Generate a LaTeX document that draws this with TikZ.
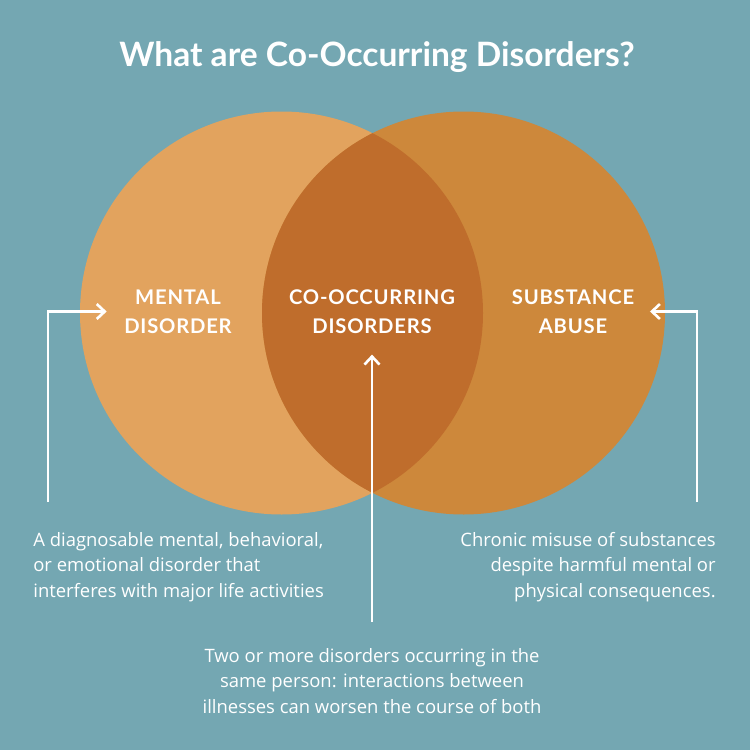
\documentclass[tikz,border=0pt]{standalone}
\usepackage{fontspec}
\setmainfont{Open Sans}
\newfontfamily\headfont{Lato}
\newfontfamily\labelfont{Lato}[LetterSpace=4.0]
\usetikzlibrary{arrows.meta,positioning}

\definecolor{tealbg}{HTML}{74A7B2}
\definecolor{mentalfill}{HTML}{E2A35E}
\definecolor{abusefill}{HTML}{CD883B}
\definecolor{overlapfill}{HTML}{BF6D2C}

\begin{document}
\begin{tikzpicture}[
    x=0.02cm, y=-0.02cm,
    circlelabel/.style={
        text=white,
        font=\labelfont\bfseries\fontsize{11.5}{16.5}\selectfont,
        align=center
    },
    bodytext/.style={
        text=white,
        font=\fontsize{10.5}{14.5}\selectfont,
        inner sep=0pt
    },
    pointer/.style={
        draw=white,
        line width=1.5pt,
        -{Straight Barb[length=1.6mm,width=3mm]}
    }
]
    % --- BACKGROUND ---
    \fill[tealbg] (0,0) rectangle (750,750);

    \node[text=white, font=\headfont\bfseries\fontsize{19.1}{23}\selectfont, anchor=base]
        (title) at (377,67) {What are Co-Occurring Disorders?};

    % --- VENN CIRCLES ---
    \fill[mentalfill] (281.5,313) circle[radius=201.5];
    \fill[abusefill] (463.5,313) circle[radius=201.5];
    \begin{scope}
        \clip (281.5,313) circle[radius=201.5];
        \fill[overlapfill] (463.5,313) circle[radius=201.5];
    \end{scope}

    \node[circlelabel] (mental) at (178,311.5) {MENTAL\\DISORDER};
    \node[circlelabel] (cooccur) at (372,311.5) {CO-OCCURRING\\DISORDERS};
    \node[circlelabel] (abuse) at (573,311.5) {SUBSTANCE\\ABUSE};

    % --- DESCRIPTIONS ---
    \node[bodytext, align=left, anchor=north west] (mentaltext) at (33,532)
        {A diagnosable mental, behavioral,\\or emotional disorder that\\interferes with major life activities};
    \node[bodytext, align=right, anchor=north east] (abusetext) at (716,532)
        {Chronic misuse of substances\\despite harmful mental or\\physical consequences.};
    \node[bodytext, align=center, anchor=north] (cooccurtext) at (372,648)
        {Two or more disorders occurring in the\\same person: interactions between\\illnesses can worsen the course of both};

    % --- POINTERS ---
    \coordinate (mentalbase) at (48,502);
    \coordinate (abusebase) at (697,502);
    \coordinate (cooccurbase) at (372,622);

    \draw[pointer, shorten >=6.5pt] (mentalbase) |- (mental.west);
    \draw[pointer, shorten >=5.5pt] (abusebase) |- (abuse.east);
    \draw[pointer, shorten >=8.5pt] (cooccurbase) -- (cooccur.south);
\end{tikzpicture}
\end{document}
